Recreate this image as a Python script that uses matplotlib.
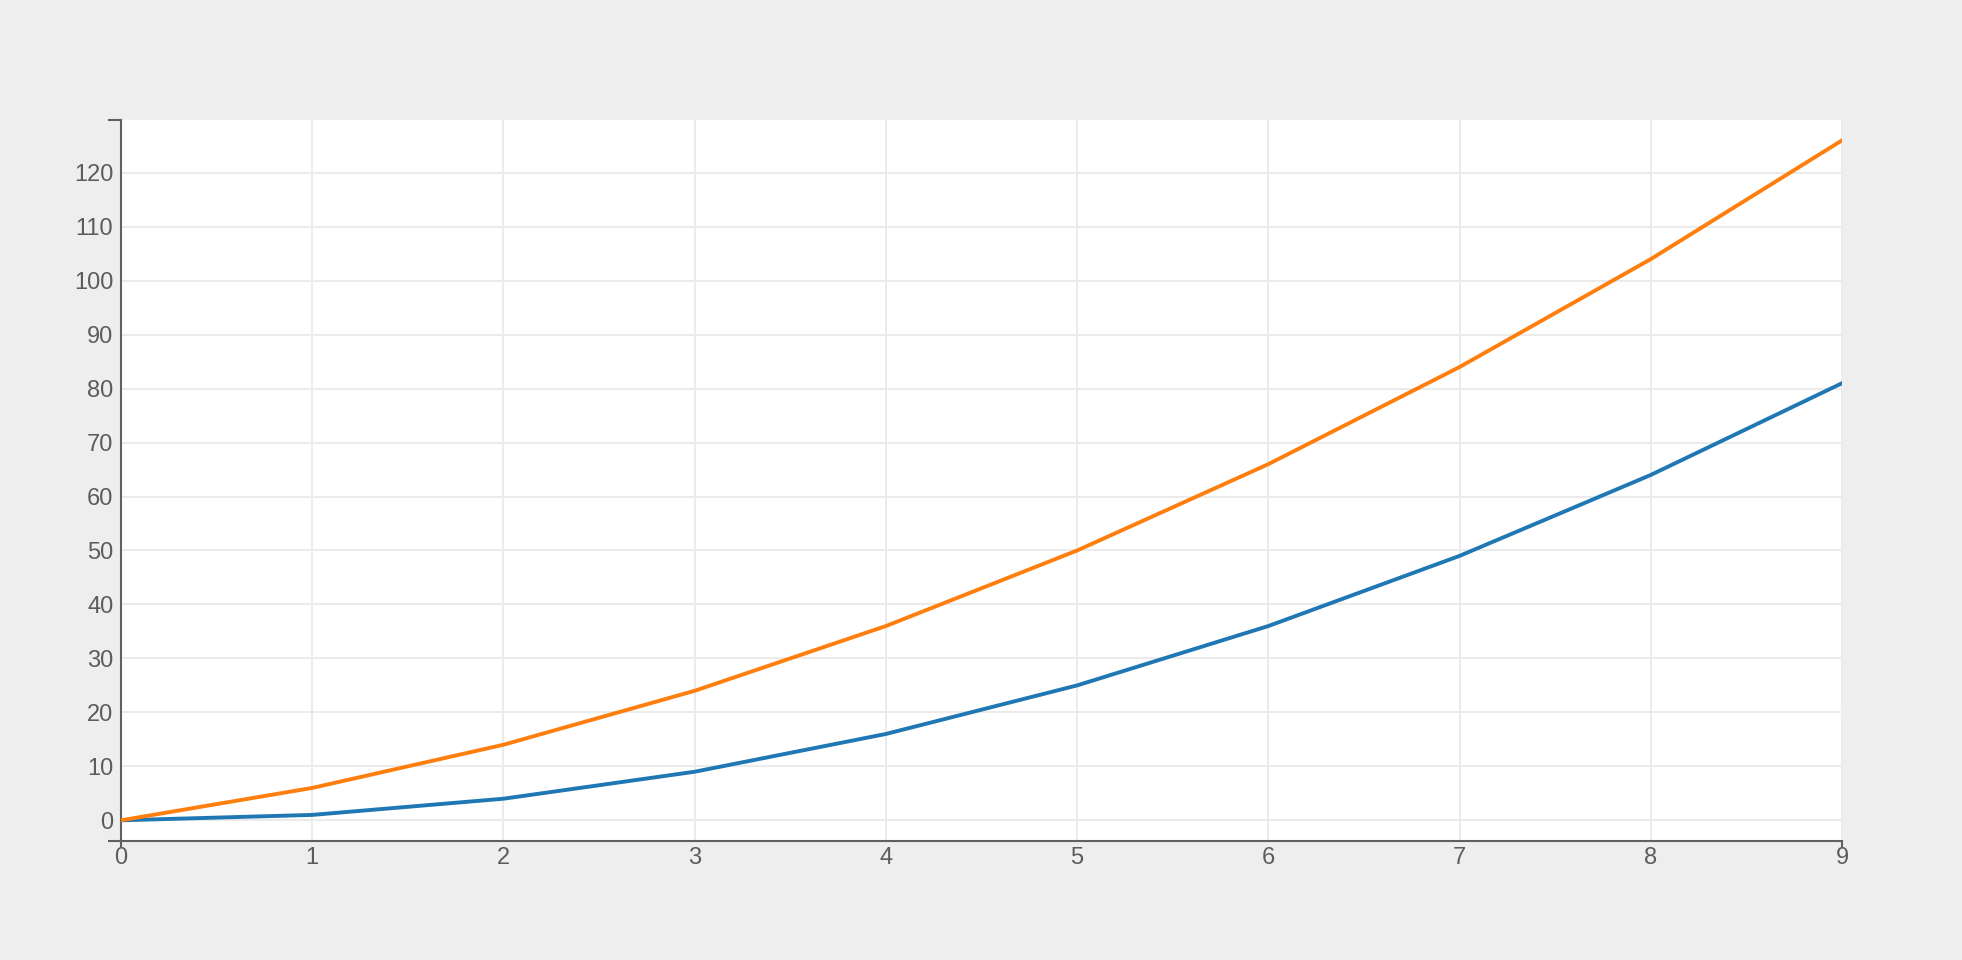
import matplotlib
matplotlib.use("Agg")
import matplotlib.pyplot as plt

x_values = [0, 1, 2, 3, 4, 5, 6, 7, 8, 9]
series_blue = [0, 1, 4, 9, 16, 25, 36, 49, 64, 81]
series_orange = [0, 6, 14, 24, 36, 50, 66, 84, 104, 126]
y_ticks = [0, 10, 20, 30, 40, 50, 60, 70, 80, 90, 100, 110, 120]

plt.rcParams['font.family'] = ['Liberation Sans', 'DejaVu Sans']

BG = '#eeeeee'
AX = '#606060'
TXT = '#5c5c5c'

fig = plt.figure(figsize=(19.62, 9.60), dpi=100, facecolor=BG)
ax = fig.add_axes([121 / 1962, 1 - 840.7 / 960, (1842 - 121) / 1962, (840.7 - 120) / 960])
ax.set_facecolor('white')

ymax = max(max(series_blue), max(series_orange))
pad = 0.03 * ymax
ylo, yhi = -pad, ymax + pad
ax.set_xlim(x_values[0], x_values[-1])
ax.set_ylim(ylo, yhi)

ax.plot(x_values, series_blue, color='#1f77b4', lw=2.8, solid_joinstyle='round', zorder=3)
ax.plot(x_values, series_orange, color='#ff7f0e', lw=2.8, solid_joinstyle='round', zorder=3)

ax.set_xticks(x_values)
ax.set_yticks(y_ticks)
ax.grid(True, color='#ebebeb', lw=1.4, zorder=0)
ax.set_axisbelow(True)

for s in ['top', 'right']:
    ax.spines[s].set_visible(False)
for s in ['left', 'bottom']:
    ax.spines[s].set_color(AX)
    ax.spines[s].set_linewidth(1.5)

ax.tick_params(axis='both', which='major', length=0, labelsize=17, labelcolor=TXT)
ax.tick_params(axis='y', which='major', pad=5.5)
ax.tick_params(axis='x', which='major', pad=4.5)

# outer (domain) ticks
ax.xaxis.remove_overlapping_locs = False
ax.yaxis.remove_overlapping_locs = False
ax.set_xticks([x_values[0], x_values[-1]], minor=True)
ax.set_yticks([ylo, yhi], minor=True)
ax.tick_params(axis='x', which='minor', length=4.5, width=1.5, color=AX, direction='out')
ax.tick_params(axis='y', which='minor', length=9.5, width=1.5, color=AX, direction='out')

fig.savefig('out.png', dpi=100, facecolor=BG)
